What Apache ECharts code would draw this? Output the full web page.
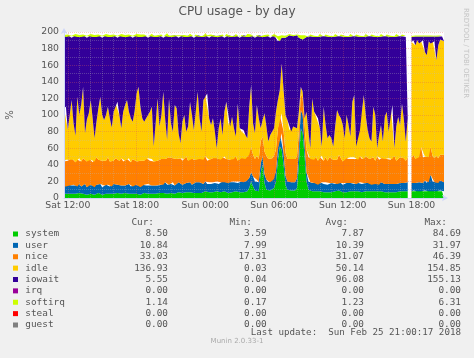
<!DOCTYPE html>
<html><head><meta charset="utf-8">
<script src="https://cdn.jsdelivr.net/npm/echarts@6/dist/echarts.min.js"></script>
<style>html,body{margin:0;padding:0;background:#f0f0f0}#c{width:474px;height:358px}</style>
</head><body><div id="c"></div>
<script>
// 10-minute samples starting Sat 11:40 (hours since Sat 00:00)
const T0 = 11 + 40 / 60;
const STEP = 1 / 6;
const xTickLabels = ['Sat 12:00', 'Sat 18:00', 'Sun 00:00', 'Sun 06:00', 'Sun 12:00', 'Sun 18:00'];

const seriesNames = ['system', 'user', 'nice', 'idle', 'iowait', 'irq', 'softirq', 'steal', 'guest'];
const seriesColors = ['#00CC00', '#0066B3', '#FF8000', '#FFCC00', '#330099', '#990099', '#CCFF00', '#FF0000', '#808080'];
const curVals = [8.50, 10.84, 33.03, 136.93, 5.55, 0.00, 1.14, 0.00, 0.00];
const minVals = [3.59, 7.99, 17.31, 0.03, 0.04, 0.00, 0.17, 0.00, 0.00];
const avgVals = [7.87, 10.39, 31.07, 50.14, 96.08, 0.00, 1.23, 0.00, 0.00];
const maxVals = [84.69, 31.97, 46.39, 154.85, 155.13, 0.00, 6.31, 0.00, 0.00];
const lastUpdate = 'Last update:  Sun Feb 25 21:00:17 2018';

const system = [
5,4,5,6,5,4,5,5,6,4,
5,5,4,6,5,5,4,5,6,5,
4,5,5,6,5,4,5,5,6,5,
5,4,6,5,5,4,5,6,5,5,
4,5,6,5,5,6,5,4,5,6,
6,5,6,7,5,6,6,7,5,6,
7,6,6,5,7,6,7,6,6,7,
6,7,6,7,8,6,7,6,7,7,
8,6,7,7,8,7,6,8,7,7,
8,7,7,8,7,9,8,12,20,14,
9,10,8,30,40,18,10,8,9,10,
12,20,45,62,58,40,16,10,8,9,
8,9,12,40,84,78,50,20,10,8,
8,7,8,7,8,9,7,8,7,8,
7,8,8,7,9,8,7,8,7,8,
8,7,8,7,8,8,7,9,8,7,
8,7,8,7,8,7,8,8,7,8,
7,8,7,8,7,8,8,7,8,7,
8,null,8,9,8,8,9,8,8,9,
8,8,9,8,9,8,8,9,8,8];

const user = [
9,10,11,9,10,12,10,9,11,10,
10,12,9,10,11,10,9,11,10,12,
9,10,11,10,9,10,12,11,10,9,
10,11,9,10,12,10,9,10,11,10,
9,11,10,10,12,9,10,11,10,9,
10,11,10,12,11,10,11,12,10,11,
12,11,10,12,11,11,12,10,11,12,
11,12,11,10,12,11,12,11,12,11,
12,11,12,13,11,12,12,11,13,12,
12,11,13,12,12,11,13,12,11,12,
11,12,11,12,10,11,12,11,10,11,
11,12,14,16,20,14,11,10,11,10,
11,10,12,18,22,22,14,11,10,11,
10,11,10,9,11,10,10,11,9,10,
11,10,9,10,11,10,9,10,11,10,
10,11,9,10,10,11,10,9,10,11,
10,9,11,10,10,9,11,10,10,11,
10,9,10,11,10,9,10,11,10,10,
11,null,10,11,10,12,10,11,10,12,
10,11,19,12,10,11,10,12,11,11];

const nice = [
30,32,29,31,33,30,28,32,31,30,
33,29,31,32,30,28,31,33,30,29,
32,31,29,33,30,31,28,32,30,31,
33,29,30,32,31,29,33,30,28,31,
32,30,29,33,31,30,32,29,31,30,
29,31,30,28,31,33,30,29,32,30,
28,31,29,30,32,28,30,31,29,27,
30,28,31,29,30,28,27,30,29,31,
28,30,27,29,31,28,30,27,29,28,
30,27,29,28,30,27,29,28,30,26,
27,29,28,26,24,27,29,28,30,27,
28,26,24,22,24,26,28,27,29,28,
27,28,26,22,20,20,24,27,29,28,
30,28,31,29,30,32,28,30,29,31,
30,28,31,29,32,30,28,31,30,29,
31,29,32,30,28,31,30,29,32,30,
29,31,30,28,32,30,29,31,30,28,
31,29,30,32,28,30,31,29,30,28,
30,null,30,32,29,31,30,42,31,29,
32,30,33,31,29,32,30,31,33,33];

const idle = [
64,64,37,54,70,44,32,76,52,68,
86,32,51,54,72,53,28,43,62,76,
55,48,55,61,52,40,59,66,70,55,
36,60,67,71,56,53,45,59,82,88,
65,50,47,48,52,59,63,18,44,75,
41,53,82,48,23,71,43,32,65,61,
31,18,47,53,30,41,67,53,36,58,
81,49,32,72,74,81,50,41,48,31,
12,37,50,27,54,69,40,40,49,37,
24,69,35,32,33,29,22,58,75,38,
31,61,49,16,20,46,35,21,27,32,
33,46,35,30,60,50,45,47,34,33,
40,37,34,24,8,8,8,46,31,13,
72,58,49,51,35,11,65,39,27,27,
24,16,38,60,48,48,44,23,52,41,
25,69,75,15,38,32,57,77,50,34,
25,21,61,55,10,30,40,19,51,57,
32,68,65,9,41,51,39,67,46,23,
47,null,140,138,137,139,137,128,141,126,
122,140,125,139,141,115,136,139,138,137];

const iowait = [
87,84,114,95,75,105,121,72,95,82,
62,117,98,93,78,98,123,102,88,73,
93,101,96,84,99,109,92,81,77,95,
112,90,83,76,92,99,101,90,70,60,
85,98,104,99,93,91,86,132,105,74,
110,95,65,100,126,74,105,114,84,87,
115,129,104,94,115,108,80,95,111,91,
68,98,115,76,72,69,97,107,100,114,
135,110,100,119,89,79,108,108,97,110,
122,81,109,115,114,118,123,84,60,105,
115,83,100,110,101,92,110,127,117,115,
112,90,71,59,31,65,93,101,114,114,
109,110,112,89,57,63,97,90,113,135,
76,90,97,98,112,133,83,107,124,118,
123,132,110,89,93,99,108,122,95,106,
122,79,69,133,112,112,91,70,96,113,
121,127,86,94,135,118,108,127,95,91,
116,80,83,134,110,97,105,81,102,126,
99,null,6,4.5,10.5,4.5,8.5,5.5,4.5,18.5,
22.5,5.5,8.5,4.5,5.5,28.5,10.5,3.5,4.5,5.5];

const softirq = [
1.5,2,1,1.5,2.5,1,1.5,2,1.5,2,
1,1.5,2.5,1,1.5,2,1.5,2,1,1.5,
2.5,1,1.5,2,1.5,2,1,1.5,2.5,1,
1.5,2,1.5,2,1,1.5,2.5,1,1.5,2,
2,1.5,1,2.5,1.5,1,2,1.5,1,2,
1,2,1.5,1,2.5,1.5,1,2,1.5,1,
2,1,1.5,2.5,1,1.5,2,1,1.5,2,
1.5,1,2,1.5,2.5,1,1.5,2,1,1.5,
2,1.5,1,2,1.5,2.5,1,1.5,2,1,
1.5,2,1,1.5,2,1,2.5,1.5,1,2,
1,1.5,2,1,1.5,2.5,1,2,1.5,1,
1.5,2,6,6.3,3,1.5,2.5,1,1.5,2,
1.5,2,1,3,5,5,3,2,1.5,2,
1,1.5,2.5,1,1.5,2,1.5,2,1,1.5,
2.5,1,1.5,2,1.5,2,1,1.5,2.5,1,
1.5,2,1.5,2,1,1.5,2.5,1,1.5,2,
1.5,2,1,1.5,2.5,1,1.5,2,1.5,2,
1,1.5,2.5,1,1.5,2,1.5,2,1,1.5,
1.5,null,1.2,1,1.3,1.1,1.2,1,1.4,1.1,
1.2,1,1.3,1.2,1.1,1.4,1.2,1,1.2,1.14];

// all-zero series (first and last sample)
const irq = [0, 0];
const steal = [0, 0];
const guest = [0, 0];

const N = system.length;
// category labels for every sample, e.g. "Sat 11:40"
const pad = n => (n < 10 ? '0' : '') + n;
const categories = [];
for (let i = 0; i < N; i++) {
  const mins = Math.round((T0 + i * STEP) * 60);
  const day = mins < 24 * 60 ? 'Sat' : 'Sun';
  const m = mins % (24 * 60);
  categories.push(day + ' ' + pad(Math.floor(m / 60)) + ':' + pad(m % 60));
}
const tickIdx = xTickLabels.map(l => categories.indexOf(l));
const hourIdx = categories.map((c, i) => (c.endsWith(':00') ? i : -1)).filter(i => i >= 0);

const stackedData = { system, user, nice, idle, iowait, softirq };
const zeroData = { irq, steal, guest };

const labelColor = '#555';
const sans = 'DejaVu Sans';
const mono = 'DejaVu Sans Mono';

const minorStyle = { color: 'rgba(190,190,190,0.3)', width: 1, type: [1, 1] };
const majorStyle = { color: 'rgba(224,90,90,0.32)', width: 1, type: [1, 1] };

const series = [];
['system', 'user', 'nice', 'idle', 'iowait', 'softirq'].forEach(name => {
  const c = seriesColors[seriesNames.indexOf(name)];
  series.push({
    name, type: 'line', stack: 'cpu', data: stackedData[name],
    symbol: 'none', showSymbol: false, connectNulls: false,
    lineStyle: { width: 0 }, itemStyle: { color: c },
    areaStyle: { color: c, opacity: 1 }, z: 2
  });
});
['irq', 'steal', 'guest'].forEach(name => {
  const c = seriesColors[seriesNames.indexOf(name)];
  const v = zeroData[name];
  const s = {
    name, type: 'line', data: [[0, v[0]], [N - 1, v[1]]],
    symbol: 'none', showSymbol: false,
    lineStyle: { width: 0, opacity: 0 }, itemStyle: { color: c }, z: 1
  };
  if (name === 'guest') {
    s.markLine = {
      silent: true, symbol: ['none', 'none'], label: { show: false }, animation: false,
      data: hourIdx.map(i => ({ xAxis: categories[i], lineStyle: tickIdx.includes(i) ? majorStyle : minorStyle }))
    };
  }
  series.push(s);
});

// legend table and side texts
const graphic = [];
graphic.push({ type: 'text', x: 10, y: 115, rotation: Math.PI / 2,
  style: { text: '%', fill: labelColor, fontSize: 10, fontFamily: sans, align: 'center', verticalAlign: 'middle' } });
graphic.push({ type: 'text', x: 466, y: 8, rotation: -Math.PI / 2,
  style: { text: 'RRDTOOL / TOBI OETIKER', fill: '#c4c4c4', fontSize: 7, fontFamily: sans, align: 'left', verticalAlign: 'middle' } });
const headers = ['Cur:', 'Min:', 'Avg:', 'Max:'];
const headX = [154, 252, 348, 447];
const colX = [168, 266.7, 364, 461];
headers.forEach((h, j) => graphic.push({ type: 'text', x: headX[j], y: 223,
  style: { text: h, fill: labelColor, fontSize: 9.4, fontFamily: mono, align: 'right', verticalAlign: 'middle' } }));
const cols = [curVals, minVals, avgVals, maxVals];
seriesNames.forEach((name, k) => {
  const y = 234 + k * 11.375;
  graphic.push({ type: 'rect', shape: { x: 13, y: y - 2.5, width: 5, height: 5 }, style: { fill: seriesColors[k] } });
  graphic.push({ type: 'text', x: 25.3, y,
    style: { text: name, fill: labelColor, fontSize: 9.4, fontFamily: mono, align: 'left', verticalAlign: 'middle' } });
  cols.forEach((arr, j) => graphic.push({ type: 'text', x: colX[j], y,
    style: { text: arr[k].toFixed(2), fill: labelColor, fontSize: 9.4, fontFamily: mono, align: 'right', verticalAlign: 'middle' } }));
});
graphic.push({ type: 'text', x: 461, y: 332.3,
  style: { text: lastUpdate, fill: labelColor, fontSize: 9.2, fontFamily: mono, align: 'right', verticalAlign: 'middle' } });
graphic.push({ type: 'text', x: 237, y: 341.5,
  style: { text: 'Munin 2.0.33-1', fill: '#aaa', fontSize: 7, fontFamily: sans, align: 'center', verticalAlign: 'middle' } });

const chart = echarts.init(document.getElementById('c'), null, { renderer: 'canvas' });
chart.setOption({
  animation: false,
  backgroundColor: '#f0f0f0',
  title: { text: 'CPU usage - by day', left: 'center', top: 6, padding: 0,
    textStyle: { fontSize: 12, fontWeight: 'normal', color: labelColor, fontFamily: sans } },
  grid: { left: 64, right: 30, top: 32, bottom: 160, show: true, backgroundColor: '#ffffff', borderWidth: 0 },
  xAxis: {
    type: 'category', data: categories, boundaryGap: false, z: 3,
    axisLine: { show: true, onZero: false, lineStyle: { color: '#CFD6F8' }, symbol: ['none', 'arrow'], symbolSize: [5, 6], symbolOffset: [0, 4] },
    axisTick: { show: false },
    axisLabel: { interval: i => tickIdx.includes(i), color: labelColor, fontSize: 9.3, fontFamily: sans, margin: 3 },
    splitLine: { show: false }
  },
  yAxis: {
    type: 'value', min: 0, max: 200, interval: 20, z: 3,
    axisLine: { show: true, lineStyle: { color: '#CFD6F8' }, symbol: ['none', 'arrow'], symbolSize: [5, 6], symbolOffset: [0, 4] },
    axisTick: { show: false },
    axisLabel: { color: labelColor, fontSize: 9.3, fontFamily: sans, margin: 5 },
    splitLine: { show: true, lineStyle: majorStyle },
    minorTick: { show: false, splitNumber: 2 },
    minorSplitLine: { show: true, lineStyle: minorStyle }
  },
  series,
  graphic
});
</script>
</body></html>
